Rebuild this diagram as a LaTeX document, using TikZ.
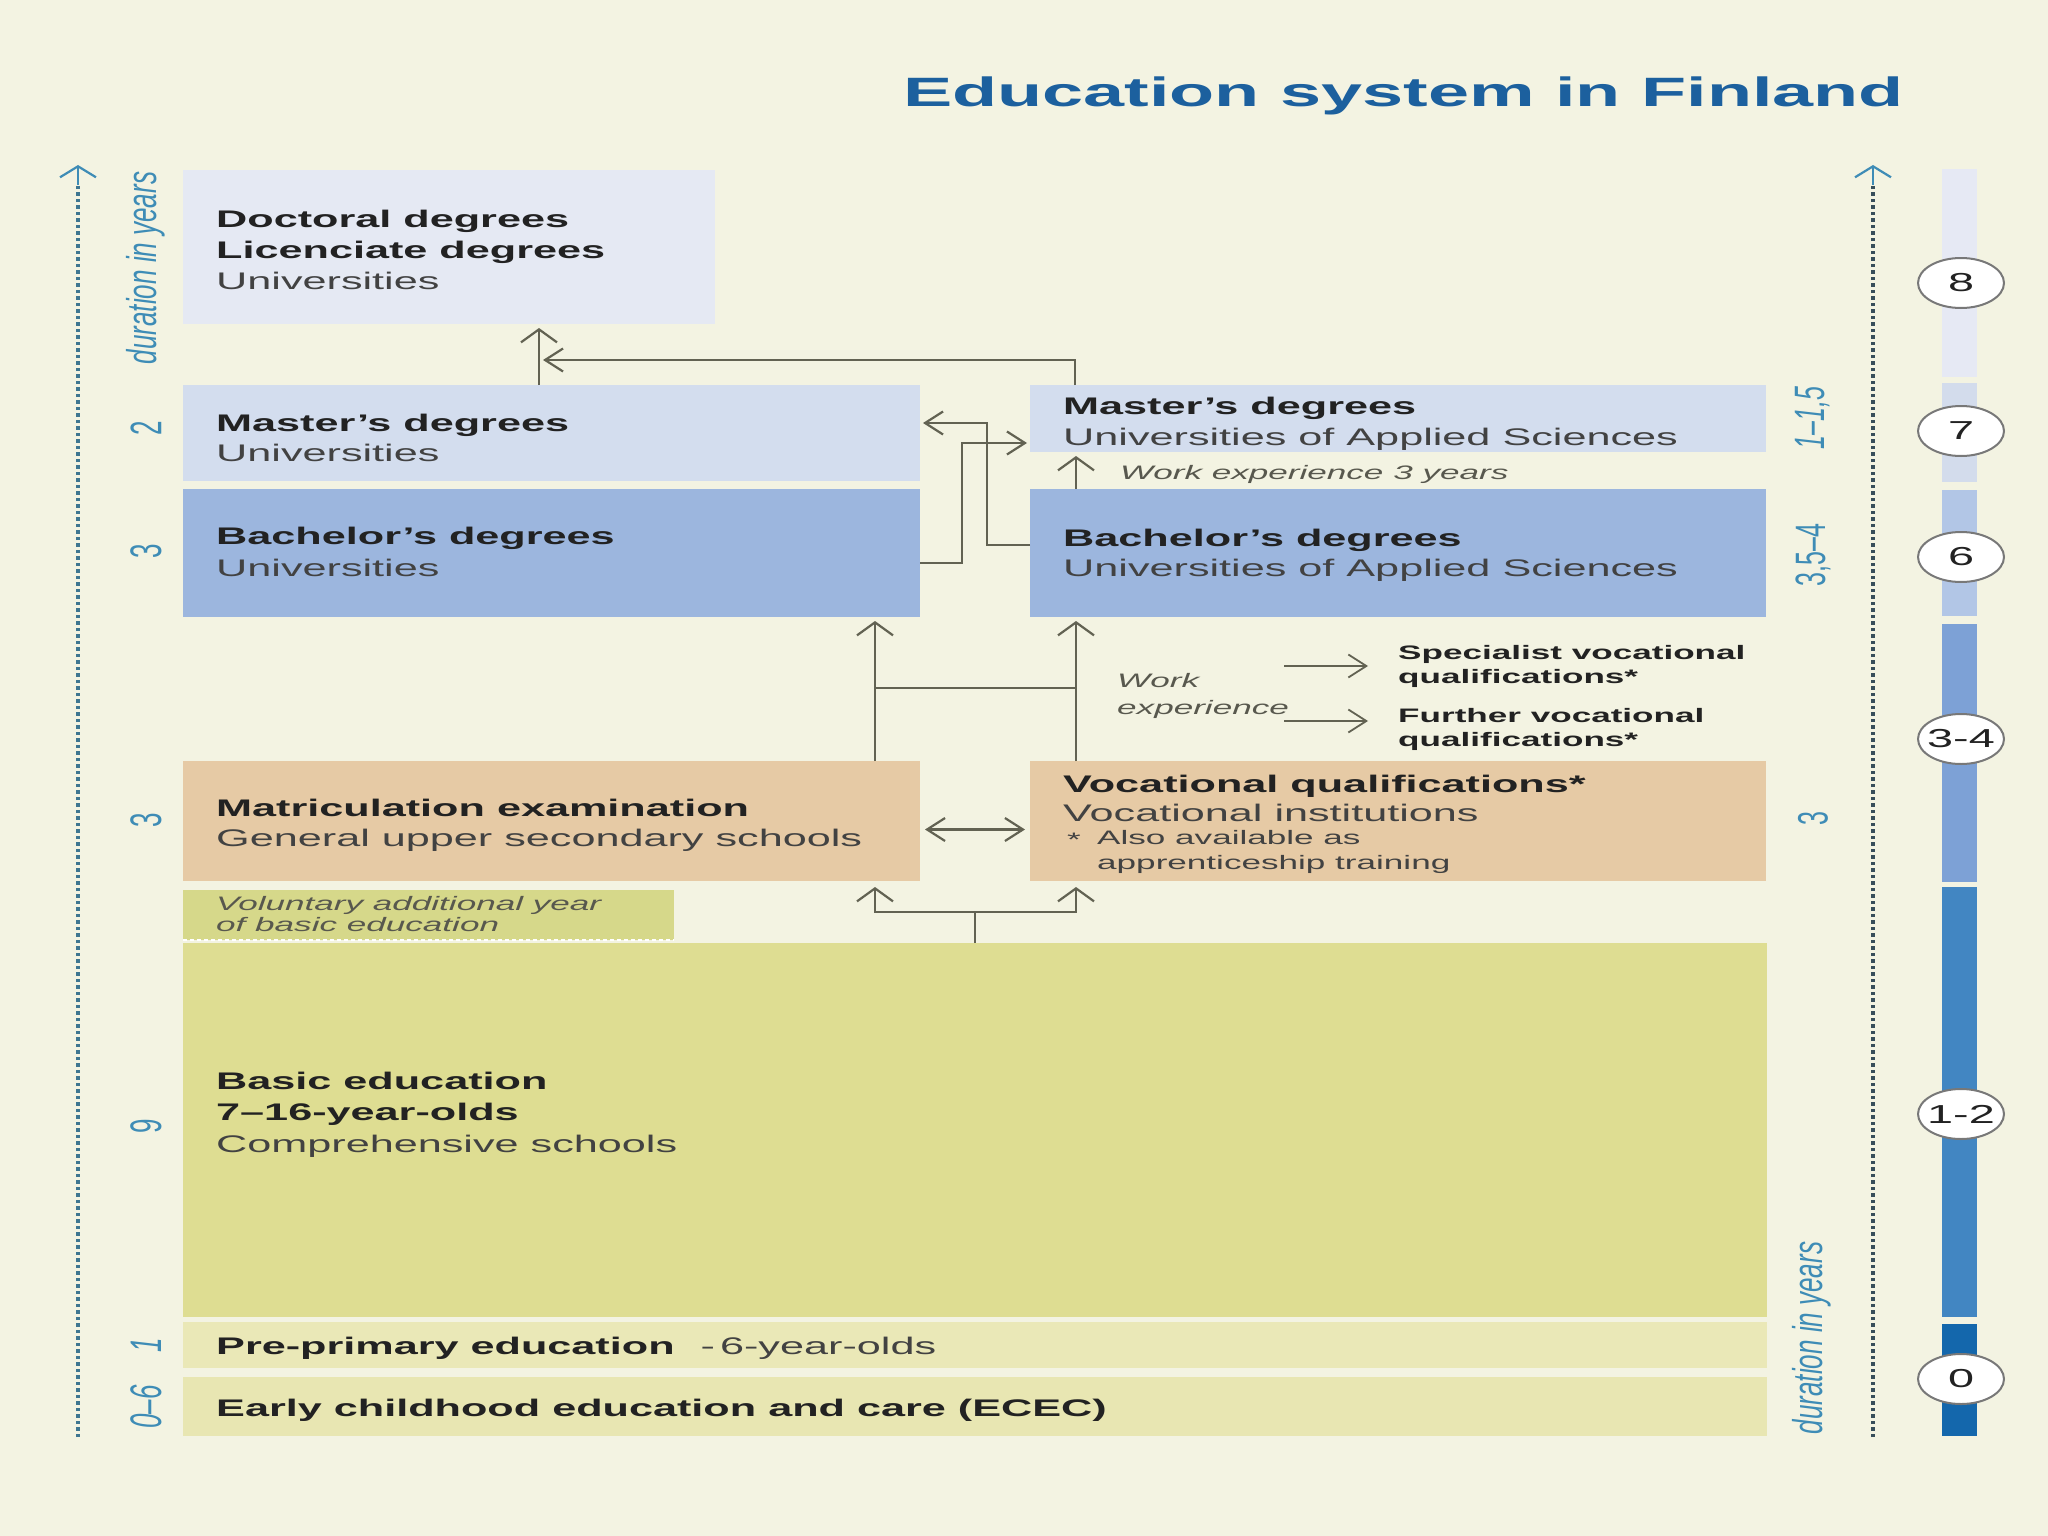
\documentclass[tikz,border=0pt]{standalone}
\usepackage{fontspec}
\usepackage{graphicx}
\setmainfont[FakeStretch=1.8]{Liberation Sans}
\newfontfamily\rotfont{Liberation Sans}
\usetikzlibrary{arrows.meta,shapes.geometric}
\definecolor{bg}{RGB}{243,243,226}
\definecolor{cdoc}{RGB}{229,233,243}
\definecolor{cmast}{RGB}{211,221,238}
\definecolor{cbach}{RGB}{156,182,222}
\definecolor{ctan}{RGB}{230,202,165}
\definecolor{cvol}{RGB}{214,216,138}
\definecolor{cbasic}{RGB}{222,221,146}
\definecolor{cpre}{RGB}{234,232,183}
\definecolor{cecec}{RGB}{232,230,178}
\definecolor{bara}{RGB}{230,233,244}
\definecolor{barb}{RGB}{211,220,236}
\definecolor{barc}{RGB}{178,198,230}
\definecolor{bard}{RGB}{125,161,214}
\definecolor{bare}{RGB}{66,134,194}
\definecolor{barf}{RGB}{20,103,172}
\definecolor{connc}{RGB}{98,98,82}
\definecolor{tdark}{RGB}{34,34,34}
\definecolor{tgray}{RGB}{66,66,66}
\definecolor{titgray}{RGB}{88,88,78}
\definecolor{cteal}{RGB}{62,140,182}
\definecolor{ctitle}{RGB}{28,96,158}
\definecolor{cdotl}{RGB}{62,118,145}
\definecolor{cdotr}{RGB}{55,78,90}
\definecolor{cellb}{RGB}{120,120,120}
\begin{document}
\begin{tikzpicture}[x=1pt,y=-1pt,
  box/.style={draw=none,inner sep=0pt,outer sep=0pt,anchor=north west},
  conn/.style={draw=connc,line width=2.2pt},
  tv/.style={-{Straight Barb[length=13pt,width=36pt]},shorten >=4pt},
  th/.style={-{Straight Barb[length=18pt,width=23pt]}},
  tboth/.style={{Straight Barb[length=18pt,width=23pt]}-{Straight Barb[length=18pt,width=23pt]}},
  bt/.style={anchor=base west,inner sep=0pt,text=tdark,font=\fontsize{24}{28}\selectfont\bfseries},
  rt/.style={anchor=base west,inner sep=0pt,text=tgray,font=\fontsize{24}{28}\selectfont},
  sbt/.style={anchor=base west,inner sep=0pt,text=tdark,font=\fontsize{19.5}{23}\selectfont\bfseries},
  srt/.style={anchor=base west,inner sep=0pt,text=tgray,font=\fontsize{19.5}{23}\selectfont},
  sit/.style={anchor=base west,inner sep=0pt,text=titgray,font=\fontsize{19.5}{23}\selectfont\itshape},
  rot/.style={rotate=90,inner sep=0pt,text=cteal},
  ell/.style={ellipse,draw=cellb,line width=2pt,fill=white,minimum width=86pt,minimum height=50pt,inner sep=0pt,text=tdark,font=\fontsize{26}{30}\selectfont},
  dotl/.style={line width=3.5pt,dash pattern=on 3.5pt off 3pt},
  dotarrow/.style={draw=cteal,line width=2.2pt,-{Straight Barb[length=11pt,width=36pt]}}
]
\path[use as bounding box,fill=bg] (0,0) rectangle (2048,1536);

% title
\node[anchor=base east,inner sep=0pt,text=ctitle,font=\fontsize{41}{48}\selectfont\bfseries] (title) at (1904,107) {Education system in Finland};

% duration axes
\coordinate (ltop) at (78,165);
\coordinate (lbot) at (78,1437);
\coordinate (lar) at (78,185);
\draw[dotl,draw=cdotl] (lbot) -- (lar);
\draw[dotarrow] (lar) -- (ltop);
\coordinate (rtop) at (1873,165);
\coordinate (rbot) at (1873,1437);
\coordinate (rar) at (1873,185);
\draw[dotl,draw=cdotr] (rbot) -- (rar);
\draw[dotarrow] (rar) -- (rtop);

\node[rot] (ldur) at (146,268) {\scalebox{1}[1.6]{\rotfont\itshape\fontsize{26}{30}\selectfont duration in years}};
\node[rot] (rdur) at (1812,1338) {\scalebox{1}[1.6]{\rotfont\itshape\fontsize{26}{30}\selectfont duration in years}};
\node[rot] (l2) at (146,428) {\scalebox{1}[1.7]{\rotfont\fontsize{26}{30}\selectfont 2}};
\node[rot] (l3a) at (146,551) {\scalebox{1}[1.7]{\rotfont\fontsize{26}{30}\selectfont 3}};
\node[rot] (l3b) at (146,820) {\scalebox{1}[1.7]{\rotfont\fontsize{26}{30}\selectfont 3}};
\node[rot] (l9) at (146,1126) {\scalebox{1}[1.7]{\rotfont\fontsize{26}{30}\selectfont 9}};
\node[rot] (l1) at (146,1345) {\scalebox{1}[1.7]{\rotfont\itshape\fontsize{26}{30}\selectfont 1}};
\node[rot] (l06) at (146,1407) {\scalebox{1}[1.7]{\rotfont\itshape\fontsize{26}{30}\selectfont 0–6}};
\node[rot] (r115) at (1813,418) {\scalebox{1}[1.7]{\rotfont\itshape\fontsize{25}{30}\selectfont 1–1,5}};
\node[rot] (r354) at (1813,555) {\scalebox{1}[1.7]{\rotfont\fontsize{25}{30}\selectfont 3,5–4}};
\node[rot] (r3) at (1813,819) {\scalebox{1}[1.7]{\rotfont\fontsize{25}{30}\selectfont 3}};

% right bar
\fill[bara] (1942,169) rectangle (1977,377);
\fill[barb] (1942,383) rectangle (1977,482);
\fill[barc] (1942,490) rectangle (1977,616);
\fill[bard] (1942,624) rectangle (1977,882);
\fill[bare] (1942,887) rectangle (1977,1317);
\fill[barf] (1942,1324) rectangle (1977,1436);
\node[ell] (e8) at (1961,283) {\makebox[0pt]{8}};
\node[ell] (e7) at (1961,431) {\makebox[0pt]{7}};
\node[ell] (e6) at (1961,557) {\makebox[0pt]{6}};
\node[ell] (e34) at (1961,739) {\makebox[0pt]{3-4}};
\node[ell] (e12) at (1961,1114) {\makebox[0pt]{1-2}};
\node[ell] (e0) at (1961,1379) {\makebox[0pt]{0}};

% boxes
\node[box,fill=cdoc,minimum width=532pt,minimum height=154pt] (doc) at (183,170) {};
\node[box,fill=cmast,minimum width=737pt,minimum height=96pt] (mu) at (183,385) {};
\node[box,fill=cbach,minimum width=737pt,minimum height=128pt] (mb) at (183,489) {};
\node[box,fill=cmast,minimum width=736pt,minimum height=67pt] (uam) at (1030,385) {};
\node[box,fill=cbach,minimum width=736pt,minimum height=128pt] (ub) at (1030,489) {};
\node[box,fill=ctan,minimum width=737pt,minimum height=120pt] (mat) at (183,761) {};
\node[box,fill=ctan,minimum width=736pt,minimum height=120pt] (voc) at (1030,761) {};
\node[box,fill=cvol,minimum width=491pt,minimum height=50pt] (vol) at (183,890) {};
\node[box,fill=cbasic,minimum width=1584pt,minimum height=374pt] (basic) at (183,943) {};
\node[box,fill=cpre,minimum width=1584pt,minimum height=46pt] (pre) at (183,1322) {};
\node[box,fill=cecec,minimum width=1584pt,minimum height=59pt] (ecec) at (183,1377) {};
\draw[white,line width=2pt,dash pattern=on 4pt off 3pt] (vol.south west) -- (vol.south east);

% texts
\node[bt] (tdoc1) at (216,227) {Doctoral degrees};
\node[bt] (tdoc2) at (216,258) {Licenciate degrees};
\node[rt] (tdoc3) at (216,289) {Universities};
\node[bt] (tmu1) at (216,431) {Master’s degrees};
\node[rt] (tmu2) at (216,461) {Universities};
\node[bt] (tmb1) at (216,544) {Bachelor’s degrees};
\node[rt] (tmb2) at (216,576) {Universities};
\node[bt] (tuam1) at (1063,414) {Master’s degrees};
\node[rt] (tuam2) at (1063,445) {Universities of Applied Sciences};
\node[sit] (twe3) at (1120,479) {Work experience 3 years};
\node[bt] (tub1) at (1063,546) {Bachelor’s degrees};
\node[rt] (tub2) at (1063,576) {Universities of Applied Sciences};
\node[sit] (twork) at (1117,687) {Work};
\node[sit] (texp) at (1117,714) {experience};
\node[sbt] (tspec1) at (1398,659) {Specialist vocational};
\node[sbt] (tspec2) at (1398,683) {qualifications*};
\node[sbt] (tfur1) at (1398,722) {Further vocational};
\node[sbt] (tfur2) at (1398,746) {qualifications*};
\node[bt] (tmat1) at (216,816) {Matriculation examination};
\node[rt] (tmat2) at (216,846) {General upper secondary schools};
\node[bt] (tvoc1) at (1063,792) {Vocational qualifications*};
\node[rt] (tvoc2) at (1063,821) {Vocational institutions};
\node[srt] (tast) at (1067,846) {*};
\node[srt] (tvoc3) at (1097,844) {Also available as};
\node[srt] (tvoc4) at (1097,869) {apprenticeship training};
\node[sit] (tvol1) at (216,910) {Voluntary additional year};
\node[sit] (tvol2) at (216,931) {of basic education};
\node[bt] (tbas1) at (216,1089) {Basic education};
\node[bt] (tbas2) at (216,1120) {7–16-year-olds};
\node[rt] (tbas3) at (216,1152) {Comprehensive schools};
\node[bt] (tpre) at (216,1354) {Pre-primary education\hspace{26pt}{\mdseries\color{tgray}-\hspace{5pt}6-year-olds}};
\node[bt] (tecec) at (216,1416) {Early childhood education and care (ECEC)};

% connectors
\draw[conn,tv] (539,0 |- mu.north) -- (539,0 |- doc.south);
\draw[conn,th] (1075,0 |- uam.north) -- (1075,360) -- (543,360);
\draw[conn,th,shorten >=3pt] ([yshift=8pt]ub.west) -| (987,423) -- ([yshift=10pt]mu.east);
\draw[conn,th,shorten >=3pt] ([yshift=-10pt]mb.east) -| (962,443) -- ([yshift=-24.5pt]uam.west);
\draw[conn,tv] (1076,0 |- ub.north) -- (1076,0 |- uam.south);
\draw[conn,tv] (875,0 |- mat.north) -- (875,0 |- mb.south);
\draw[conn,tv] (1076,0 |- voc.north) -- (1076,0 |- ub.south);
\draw[conn,line width=1.7pt] (875,688) -- (1076,688);
\draw[conn,tboth,shorten >=5pt,shorten <=5pt] ([yshift=-8.5pt]mat.east) -- ([yshift=-8.5pt]voc.west);
\draw[conn] (975,0 |- basic.north) -- (975,912);
\draw[conn,tv,shorten >=6pt] (975,912) -| (875,0 |- mat.south);
\draw[conn,tv,shorten >=6pt] (975,912) -| (1076,0 |- voc.south);
\coordinate (wa1) at (1284,666);
\coordinate (wb1) at (1368,666);
\coordinate (wa2) at (1284,721);
\coordinate (wb2) at (1368,721);
\draw[conn,line width=1.8pt,th] (wa1) -- (wb1);
\draw[conn,line width=1.8pt,th] (wa2) -- (wb2);
\end{tikzpicture}
\end{document}
